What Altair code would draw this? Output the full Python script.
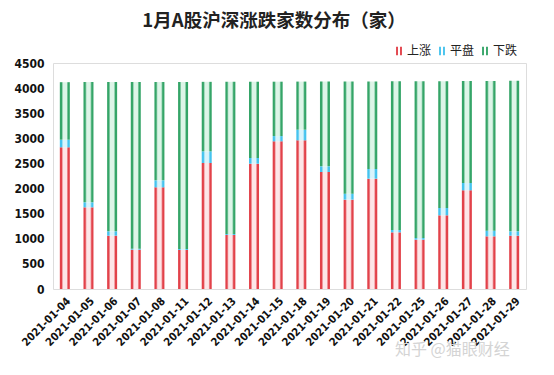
import altair as alt
import pandas as pd

dates = ["2021-01-04", "2021-01-05", "2021-01-06", "2021-01-07", "2021-01-08",
         "2021-01-11", "2021-01-12", "2021-01-13", "2021-01-14", "2021-01-15",
         "2021-01-18", "2021-01-19", "2021-01-20", "2021-01-21", "2021-01-22",
         "2021-01-25", "2021-01-26", "2021-01-27", "2021-01-28", "2021-01-29"]
up = [2821, 1626, 1062, 783, 2024, 777, 2509, 1075, 2495, 2940,
      2960, 2330, 1779, 2197, 1128, 982, 1467, 1965, 1049, 1062]
flat = [152, 100, 86, 20, 140, 19, 232, 20, 113, 105,
        212, 112, 119, 192, 47, 33, 146, 146, 112, 86]
total = [4118, 4120, 4121, 4122, 4123, 4124, 4125, 4126, 4127, 4128,
         4130, 4131, 4132, 4133, 4135, 4137, 4139, 4140, 4144, 4146]
y_ticks = [0, 500, 1000, 1500, 2000, 2500, 3000, 3500, 4000, 4500]
series = ["上涨", "平盘", "下跌"]
dark = ["#e2424a", "#45c3ee", "#35a568"]
light = ["#fde6e8", "#d9f4fc", "#ddf5e8"]
title_text = "1月A股沪深涨跌家数分布（家）"
watermark_text = "知乎 @猫眼财经"

rows = []
for i, d in enumerate(dates):
    down = total[i] - up[i] - flat[i]
    for k, (s, v) in enumerate(zip(series, [up[i], flat[i], down])):
        rows.append({"date": d, "series": s, "value": v, "order": k})
df = pd.DataFrame(rows)

base = alt.Chart(df).transform_stack(
    stack="value", groupby=["date"], sort=[alt.SortField("order")], as_=["y0", "y1"]
)

yscale = alt.Scale(domain=[0, 4500], nice=False, zero=True)
xaxis = alt.Axis(labelAngle=-45, labelFontWeight="bold", labelFontSize=11,
                 labelColor="#111", ticks=False, domain=False, title=None,
                 labelPadding=6, labelFont="DejaVu Sans Condensed")
yaxis = alt.Axis(values=y_ticks, format="d", grid=False, ticks=False, title=None,
                 domain=False, labelFontWeight="bold", labelFontSize=12,
                 labelOverlap=False, labelFlush=False,
                 labelColor="#111", labelPadding=9, labelFont="DejaVu Sans Condensed")

legend_layer = base.mark_bar(size=10, opacity=0).encode(
    x=alt.X("date:N", sort=dates, axis=xaxis),
    y=alt.Y("y0:Q", scale=yscale, axis=yaxis),
    y2="y1:Q",
    color=alt.Color("series:N", sort=series,
                    scale=alt.Scale(domain=series, range=dark),
                    legend=alt.Legend(title=None, orient="none", direction="horizontal",
                                      legendX=340, legendY=-18,
                                      symbolType="M-0.7,-1H-0.25V1H-0.7Z M0.25,-1H0.7V1H0.25Z",
                                      symbolSize=70, symbolOpacity=1, symbolStrokeWidth=0,
                                      labelFontSize=12, labelColor="#222",
                                      labelFont="Noto Sans CJK SC", columnPadding=4,
                                      labelOffset=2)),
)

layers = [legend_layer]
for k, s in enumerate(series):
    grad = alt.Gradient(
        gradient="linear", x1=0, x2=1, y1=0, y2=0,
        stops=[alt.GradientStop(color=dark[k], offset=0),
               alt.GradientStop(color=dark[k], offset=0.17),
               alt.GradientStop(color=light[k], offset=0.33),
               alt.GradientStop(color=light[k], offset=0.67),
               alt.GradientStop(color=dark[k], offset=0.83),
               alt.GradientStop(color=dark[k], offset=1)])
    layers.append(
        base.transform_filter(alt.datum.series == s).mark_bar(size=10, fill=grad).encode(
            x=alt.X("date:N", sort=dates, axis=xaxis),
            y=alt.Y("y0:Q", scale=yscale, axis=yaxis), y2="y1:Q")
    )

watermark = alt.Chart(pd.DataFrame({"t": [watermark_text]})).mark_text(
    font="Noto Sans CJK SC", fontSize=16, color="#d4d4d4", align="left", baseline="middle"
).encode(text="t:N", x=alt.value(342), y=alt.value(287))

title = alt.Chart(pd.DataFrame({"t": [title_text]})).mark_text(
    font="Noto Sans CJK SC", fontSize=18.5, fontWeight="bold", color="#222",
    align="center", baseline="middle"
).encode(text="t:N", x=alt.value(221), y=alt.value(-42))

chart = alt.layer(*layers, watermark, title).properties(
    width=473, height=226,
    padding={"left": 45, "top": 55, "right": 20, "bottom": 78},
    autosize=alt.AutoSizeParams(type="none"),
).configure_view(fill="#f8f8f8", stroke="#d8d8d8", strokeWidth=1.5).configure(background="white")

chart.save("out.html", embed_options={"renderer": "svg", "actions": False})
